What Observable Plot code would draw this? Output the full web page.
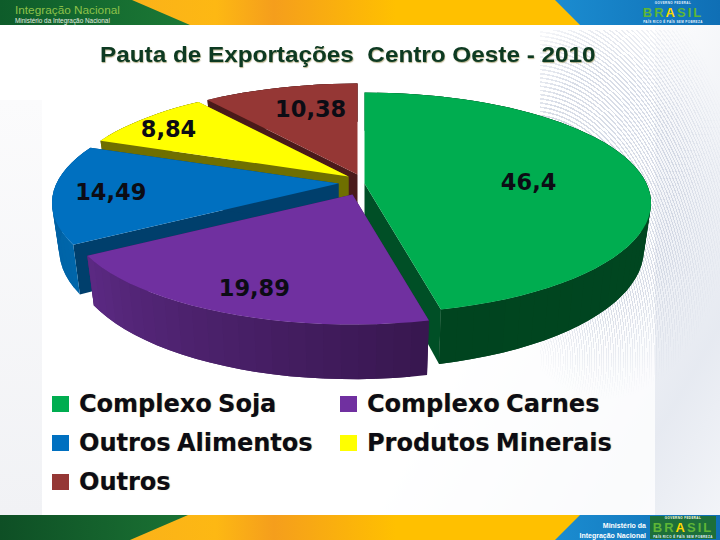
<!DOCTYPE html>
<html lang="pt">
<head>
<meta charset="utf-8">
<script src="https://cdn.jsdelivr.net/npm/d3@7"></script>
<script src="https://cdn.jsdelivr.net/npm/@observablehq/plot@0.6"></script>
<style>
html,body{margin:0;padding:0}
body{width:720px;height:540px;position:relative;overflow:hidden;background:#fff;font-family:"Liberation Sans",sans-serif}
#bg{position:absolute;inset:0;background:
  linear-gradient(120deg,rgba(255,255,255,0) 62%,rgba(214,220,232,.6) 88%,rgba(236,239,245,.6) 100%);}
#bgleft{position:absolute;left:0;top:100px;width:42px;height:415px;background:linear-gradient(180deg,#fbfbfc,#f1f2f5)}
#inner{position:absolute;left:42px;top:25px;width:613px;height:490px;background:rgba(255,255,255,.78)}
#swirl{position:absolute;left:540px;top:30px;width:180px;height:380px;opacity:.8;
  background:repeating-radial-gradient(ellipse 190px 330px at -10px 330px,rgba(190,198,215,0) 0 1.5px,rgba(190,198,215,.75) 1.5px 2.4px);
  -webkit-mask-image:radial-gradient(ellipse 130px 210px at 65px 160px,#000 55%,transparent 100%);
  mask-image:radial-gradient(ellipse 130px 210px at 65px 160px,#000 55%,transparent 100%)}
.banner{height:25px;position:relative;overflow:hidden;background:linear-gradient(90deg,#f7a823 0%,#fdb813 30%,#f59e1c 38%,#ffc000 55%,#ffc000 100%)}
.banner i{position:absolute;top:0;bottom:0;display:block}
#top .g{left:0;width:195px;background:linear-gradient(90deg,#0e5c2a,#1c7a36);clip-path:polygon(0 0,132px 0,190px 100%,0 100%)}
#top .b{right:0;width:165px;background:linear-gradient(90deg,#1b8cd0,#0f6fb5);clip-path:polygon(0 0,100% 0,100% 100%,25px 100%)}
#bot{position:absolute;left:0;top:515px;width:720px}
#bot .g{left:0;width:195px;background:linear-gradient(90deg,#0e4f25,#1b7434);clip-path:polygon(0 0,188px 0,130px 100%,0 100%)}
#bot .b{right:0;width:165px;background:linear-gradient(90deg,#1b8cd0,#0f6fb5);clip-path:polygon(25px 0,100% 0,100% 100%,0 100%)}
.t{position:absolute;white-space:pre;line-height:1}
#hd1{left:15px;top:5px;font-size:11.8px;color:#8fc24a}
#hd2{left:15px;top:17.5px;font-size:6.4px;color:#e6efe0}
.logo{position:absolute;font-weight:700;text-align:center;width:66px;white-space:nowrap;overflow:hidden}
.logo b{display:block;font-size:13px;letter-spacing:2px;color:#5fb636;line-height:15px;height:15px}
.logo b span{color:#ffd800}
.logo s{display:block;text-decoration:none;font-size:3px;letter-spacing:.4px;color:#e8f4ff;line-height:4px;height:4px}
#min{right:74px;top:6px;font-size:7px;color:#fff;text-align:right;line-height:9.5px;font-weight:700}
#title{position:absolute;left:100px;top:43px;font-size:21.5px;font-weight:700;color:#0d3a22;white-space:pre;line-height:24px;text-shadow:.5px .5px 1px rgba(120,110,40,.55);transform:scaleX(1.13);transform-origin:0 0}
#chart{position:absolute;left:0;top:75px}
#legend{position:absolute;left:52px;top:384px;display:grid;grid-template-columns:288px auto;grid-auto-rows:39px;font-family:"DejaVu Sans",sans-serif;font-weight:700;font-size:24px;word-spacing:-2px;color:#0c0c14;align-items:center}
#legend div{display:flex;align-items:center;white-space:nowrap}
#legend span{display:inline-block;width:17px;height:16px;margin-right:10px;flex:none}
#legend em{font-style:normal;text-shadow:.4px .4px .8px rgba(130,110,30,.5)}
</style>
</head>
<body>
<div id="bg"></div><div id="bgleft"></div><div id="inner"></div><div id="swirl"></div>
<div id="top" class="banner"><i class="g"></i><i class="b"></i>
  <div class="t" id="hd1">Integração Nacional</div>
  <div class="t" id="hd2">Ministério da Integração Nacional</div>
  <div class="logo" style="left:640px;top:1px"><s>GOVERNO FEDERAL</s><b>BR<span>A</span>SIL</b><s>PAÍS RICO É PAÍS SEM POBREZA</s></div>
</div>
<div id="title">Pauta de Exportações  Centro Oeste - 2010</div>
<div id="chart"></div>
<div id="legend"></div>
<div id="bot" class="banner"><i class="g"></i><i class="b"></i>
  <div class="t" id="min">Ministério da
Integração Nacional</div>
  <div class="logo" style="left:650px;top:1px;background:#1d6f3a"><s style="color:#ffe">GOVERNO FEDERAL</s><b>BR<span>A</span>SIL</b><s>PAÍS RICO É PAÍS SEM POBREZA</s></div>
</div>
<script>
// ---- data (clockwise from 12 o'clock) ----
const categories = ["Complexo Soja","Complexo Carnes","Outros Alimentos","Produtos Minerais","Outros"];
const values = [46.4,19.89,14.49,8.84,10.38];
const valueLabels = ["46,4","19,89","14,49","8,84","10,38"];
const topColors = ["#00ad50","#7030a0","#0070c0","#ffff00","#953735"];
// ---- style and projection ----
const outerWallFrom = ["#004a22","#5c2a84","#0066aa","#6f6f00","#4a1b1a"];
const outerWallTo   = ["#00441f","#381750","#005c9c","#6f6f00","#4a1b1a"];
const cutWall       = ["#004f26","#3a1852","#003f6c","#6f6f00","#4a1a1a"];
const explodeX = [4,-8,-22,-12,-3];
const explodeY = [3,14,3,-4,-6];
const labelAngleShift = [5.5,-1.3,-0.7,-2.2,3.4];
const labelRadius = [.583,.82,.80,.84,.706];
const drawOrder = [4,3,0,2,1];
const cx=360, cy=180, A=282, B=107, k=.177, H=45, shrink=.975;

const proj=(i,deg,r=1)=>{
  const t=deg*Math.PI/180, X=r*Math.sin(t), Y=r*Math.cos(t), d=1+k*Y;
  return {x:cx+explodeX[i]+A*X/d, y:cy+explodeY[i]-B*Y/d, w:H/d};
};
const low=(i,p)=>({x:cx+explodeX[i]+(p.x-cx-explodeX[i])*shrink, y:p.y+p.w});
const total=d3.sum(values);
let acc=0;
const spans=values.map(v=>{const a=acc/total*360; acc+=v; return [a,acc/total*360];});

const polys=[]; let id=0;
const add=(pts,fill)=>{const z=id++; [...pts,pts[0]].forEach(p=>polys.push({x:p.x,y:p.y,z,fill}));};
for(const i of drawOrder){
  const [a0,a1]=spans[i], n=Math.max(6,Math.round((a1-a0)/3));
  const angs=d3.range(n+1).map(j=>a0+(a1-a0)*j/n);
  const apex=proj(i,0,0);
  const shade=d3.interpolateRgb(outerWallFrom[i],outerWallTo[i]);
  // cut faces first: the outer wall hides whatever part faces away
  for(const a of [a0,a1]){
    const p=proj(i,a);
    add([apex,p,low(i,p),low(i,apex)],cutWall[i]);
  }
  // outer wall: each quad runs under the next one, so no seam shows
  for(let j=0;j<n;j++){
    const p=proj(i,angs[j]), q=proj(i,angs[Math.min(j+2,n)]);
    const m=proj(i,angs[j+1]);
    const u=i===1?1-j/n:j/n;
    add([p,m,q,low(i,q),low(i,m),low(i,p)],shade(u));
  }
  // top face
  add([apex,...angs.map(a=>proj(i,a))],topColors[i]);
}
const labelPoints=values.map((v,i)=>{
  const mid=(spans[i][0]+spans[i][1])/2+labelAngleShift[i];
  const p=proj(i,mid,labelRadius[i]);
  return {x:p.x,y:p.y,t:valueLabels[i]};
});

const plot=Plot.plot({
  width:720,height:310,margin:0,
  x:{domain:[0,720],range:[0,720],axis:null},
  y:{domain:[75,385],range:[0,310],axis:null},
  color:{type:"identity"},
  style:{background:"transparent"},
  marks:[
    Plot.line(polys,{x:"x",y:"y",z:"z",fill:"fill",stroke:"none"}),
    Plot.text(labelPoints,{x:"x",y:"y",text:"t",fontFamily:"DejaVu Sans",fontWeight:700,fontSize:22.5,fill:"#0c0c14"})
  ]
});
document.getElementById("chart").appendChild(plot);

document.getElementById("legend").innerHTML=categories.map((c,i)=>
  `<div><span style="background:${topColors[i]}"></span><em>${c}</em></div>`).join("");
</script>
</body>
</html>
